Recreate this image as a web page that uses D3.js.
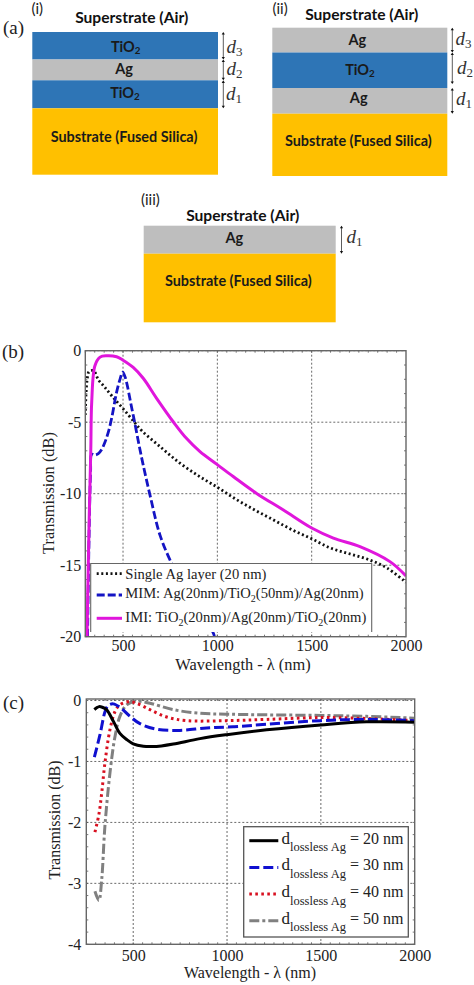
<!DOCTYPE html>
<html>
<head>
<meta charset="utf-8">
<script src="https://cdn.jsdelivr.net/npm/d3@7"></script>
<style>
html,body{margin:0;padding:0;background:#fff}
svg{display:block}
</style>
</head>
<body>
<svg id="fig" width="474" height="985"></svg>
<script>
// Layer stacks, top to bottom
const stackOneLayers = ["TiO2", "Ag", "TiO2", "Substrate (Fused Silica)"];
const stackTwoLayers = ["Ag", "TiO2", "Ag", "Substrate (Fused Silica)"];
const stackThreeLayers = ["Ag", "Substrate (Fused Silica)"];

// Panel (b): wavelength in nm, transmission in dB
const agWave = [300,304,310,318,330,345,370,400,440,500,560,600,700,800,900,1000,1100,1200,1300,1400,1500,1600,1700,1800,1900,2000];
const agDb = [-4.5,-3,-2,-1.5,-1.4,-1.4,-2.05,-2.5,-3.15,-4.05,-5,-5.6,-6.75,-7.85,-8.75,-9.55,-10.4,-11.15,-11.85,-12.55,-13.15,-13.8,-14.2,-14.6,-15.2,-16.2];
const mimWave = [312,320,328,334,350,369,385,404,422,440,466,485,498,510,522,540,563,585,607,643,696,758,800,860,920,975,990];
const mimDb = [-20,-13,-8.5,-7.25,-7.3,-7.2,-6.95,-6.4,-5.7,-4.7,-2.9,-1.95,-1.5,-1.8,-2.4,-3.6,-5.1,-6.6,-8,-10.1,-12.9,-14.9,-16,-17.4,-18.6,-19.65,-20.2];
const imiWave = [308,313,321,329,334,351,378,413,466,498,554,607,678,766,836,908,998,1084,1208,1350,1500,1615,1756,1915,2000];
const imiDb = [-21,-17,-11.5,-7,-3.6,-1.05,-0.45,-0.35,-0.42,-0.65,-1.17,-1.93,-3.33,-4.97,-6.13,-7.06,-7.95,-8.8,-9.98,-11.14,-12.4,-13.1,-13.7,-14.75,-15.75];

// Panel (c): lossless silver films of four thicknesses
const d20Wave = [293,305,318,335,358,394,429,465,500,554,600,650,714,856,998,1211,1500,1744,2000];
const d20Db = [-0.15,-0.12,-0.1,-0.11,-0.15,-0.34,-0.54,-0.64,-0.71,-0.75,-0.755,-0.745,-0.715,-0.625,-0.56,-0.48,-0.4,-0.35,-0.355];
const d30Wave = [293,323,350,367,394,429,483,536,625,749,891,1033,1211,1500,1744,2000];
const d30Db = [-0.93,-0.56,-0.18,-0.08,-0.055,-0.11,-0.26,-0.38,-0.47,-0.49,-0.45,-0.43,-0.39,-0.33,-0.31,-0.33];
const d40Wave = [296,317,332,349,376,403,429,474,518,589,678,785,998,1211,1500,1744,2000];
const d40Db = [-2.16,-1.87,-1.52,-1.03,-0.48,-0.18,-0.07,-0.02,-0.045,-0.15,-0.27,-0.33,-0.33,-0.31,-0.28,-0.295,-0.33];
const d50Wave = [296,317,332,349,376,403,429,465,518,589,714,856,998,1211,1500,1744,2000];
const d50Db = [-3.13,-3.28,-2.94,-2.07,-1.19,-0.59,-0.26,-0.07,-0.01,-0.045,-0.15,-0.21,-0.224,-0.235,-0.245,-0.26,-0.29];

// Axis ticks
const waveTicks = [500, 1000, 1500, 2000];
const panelBDbTicks = [0, -5, -10, -15, -20];
const panelCDbTicks = [0, -1, -2, -3, -4];

// Legend wording
const panelBLegend = [
  [["Single Ag layer (20 nm)", false]],
  [["MIM: Ag(20nm)/TiO", false], ["2", true], ["(50nm)/Ag(20nm)", false]],
  [["IMI: TiO", false], ["2", true], ["(20nm)/Ag(20nm)/TiO", false], ["2", true], ["(20nm)", false]]
];
const panelCThickness = ["= 20 nm", "= 30 nm", "= 40 nm", "= 50 nm"];

const svg = d3.select("#fig");
const LAYER_FILL = {TiO2: "#2e75b6", Ag: "#bebebe"};
const SUBSTRATE_FILL = "#ffc000";
const SANS = "Lato, 'Open Sans', sans-serif";
const SERIF = "'Liberation Serif', serif";
const INK = "#222";

// ---- Panel (a): layer stacks --------------------------------------------
function drawSubscriptLabel(parent, x, y, label, size) {
  const t = parent.append("text").attr("x", x).attr("y", y)
    .attr("text-anchor", "middle").attr("font-family", SANS).attr("font-weight", 700)
    .attr("font-size", size).attr("fill", "#1a1a1a").attr("dominant-baseline", "middle");
  if (label === "TiO2") {
    t.append("tspan").text("TiO");
    t.append("tspan").attr("font-size", size * 0.68).attr("dy", 3).text("2");
  } else {
    t.text(label);
  }
}

function drawStack(layers, x0, x1, edges, labelPos, superPos) {
  const g = svg.append("g");
  g.selectAll("rect").data(layers).join("rect")
    .attr("x", x0).attr("width", x1 - x0)
    .attr("y", (d, i) => edges[i])
    .attr("height", (d, i) => edges[i + 1] - edges[i])
    .attr("fill", d => LAYER_FILL[d] || SUBSTRATE_FILL);
  layers.forEach((d, i) => drawSubscriptLabel(g, labelPos[i][0], labelPos[i][1], d, d.length > 6 ? 14.4 : 14.5));
  g.append("text").attr("x", superPos[0]).attr("y", superPos[1]).attr("text-anchor", "middle")
    .attr("font-family", SANS).attr("font-weight", 700).attr("font-size", 15.6).attr("fill", "#111")
    .text("Superstrate (Air)");
}

function drawThickness(x, from, to, name, lx, ly) {
  const g = svg.append("g");
  g.append("line").attr("x1", x).attr("x2", x).attr("y1", from + 1).attr("y2", to - 1)
    .attr("stroke", "#333").attr("stroke-width", 0.8);
  [[from, 1], [to, -1]].forEach(([y, s]) => {
    g.append("path").attr("d", `M${x - 1.6},${y + s * 2.6}L${x},${y}L${x + 1.6},${y + s * 2.6}Z`).attr("fill", "#111");
  });
  const t = g.append("text").attr("x", lx).attr("y", ly).attr("font-family", SERIF)
    .attr("font-style", "italic").attr("font-size", 19).attr("fill", "#333").text("d");
  t.append("tspan").attr("font-size", 13).attr("font-style", "normal").attr("dy", 3).text(name);
}

const smallLabels = [["(i)", 31.5, 14], ["(ii)", 272.5, 14], ["(iii)", 141, 205]];
smallLabels.forEach(([s, x, y]) => svg.append("text").attr("x", x).attr("y", y)
  .attr("font-family", SANS).attr("font-size", 15).attr("fill", "#222").text(s));

drawStack(stackOneLayers, 32.3, 218, [32, 59.5, 80.3, 108.3, 174.7],
  [[125.7, 48], [124, 70.5], [125, 93.5], [124, 138]], [131.7, 23]);
drawStack(stackTwoLayers, 272.3, 447.3, [27.7, 52.5, 88, 113.7, 176],
  [[357.3, 41], [360, 71], [358.7, 99.5], [358.3, 142]], [361.7, 20]);
drawStack(stackThreeLayers, 143.7, 335.7, [225.7, 253.7, 322.3],
  [[234.3, 239.5], [238.3, 282.5]], [242.7, 220.5]);

drawThickness(223.3, 32, 59.5, "3", 226.5, 53);
drawThickness(223.3, 59.5, 80.3, "2", 226.5, 75);
drawThickness(223.3, 80.3, 108.3, "1", 226, 100);
drawThickness(452.3, 27.7, 52.5, "3", 455.5, 45);
drawThickness(452.3, 52.5, 84, "2", 457, 74);
drawThickness(452.3, 88, 113.7, "1", 456, 105);
drawThickness(341.5, 225.7, 253.7, "1", 346.5, 243);

[["(a)", 3, 34], ["(b)", 2, 358], ["(c)", 3, 709]].forEach(([s, x, y]) =>
  svg.append("text").attr("x", x).attr("y", y).attr("font-family", SERIF)
    .attr("font-size", 19).attr("fill", INK).text(s));

// ---- Shared plot scaffolding ---------------------------------------------
function plotFrame(cfg) {
  const {x, y, yTicks, minorY} = cfg;
  const [l, r] = x.range();
  const [b, t] = y.range();
  const g = svg.append("g");

  // dotted grid at the major ticks
  const grid = g.append("g").attr("stroke", "#6a6a6a").attr("stroke-width", 1).attr("stroke-dasharray", "2 2");
  grid.selectAll(".gx").data(waveTicks.filter(v => v < 2000)).join("line")
    .attr("x1", d => x(d)).attr("x2", d => x(d)).attr("y1", t).attr("y2", b);
  grid.selectAll(".gy").data(yTicks.filter(v => v !== yTicks[yTicks.length - 1])).join("line")
    .attr("x1", l).attr("x2", r).attr("y1", d => y(d)).attr("y2", d => y(d));

  const minorX = d3.range(300, 2000, 50);
  // small inward ticks on all four sides
  const ticks = g.append("g").attr("stroke", "#555").attr("stroke-width", 0.8);
  [[b, -1], [t, 1]].forEach(([edge, s]) => {
    ticks.selectAll(null).data(minorX).join("line")
      .attr("x1", d => x(d)).attr("x2", d => x(d)).attr("y1", edge).attr("y2", edge + s * 2);
  });
  [[l, 1], [r, -1]].forEach(([edge, s]) => {
    ticks.selectAll(null).data(minorY).join("line")
      .attr("y1", d => y(d)).attr("y2", d => y(d)).attr("x1", edge).attr("x2", edge + s * 2);
  });
  return g;
}

function finishAxes(cfg) {
  const {x, y, yTicks, tickSize, tickPad, xBase} = cfg;
  const [l, r] = x.range();
  const [b, t] = y.range();
  const ax = svg.append("g");
  const xAxis = ax.append("g").attr("transform", `translate(0,${b})`)
    .call(d3.axisBottom(x).tickValues(waveTicks).tickSize(0).tickPadding(xBase).tickFormat(d3.format("d")));
  const yAxis = ax.append("g").attr("transform", `translate(${l},0)`)
    .call(d3.axisLeft(y).tickValues(yTicks).tickSize(0).tickPadding(tickPad).tickFormat(d => d === 0 ? "0" : "-" + Math.abs(d)));
  [xAxis, yAxis].forEach(a => {
    a.selectAll(".domain").remove();
    a.selectAll("text").attr("font-family", SERIF).attr("font-size", tickSize).attr("fill", INK);
  });
  ax.append("rect").attr("x", l).attr("y", t).attr("width", r - l).attr("height", b - t)
    .attr("fill", "none").attr("stroke", "#666").attr("stroke-width", 1.4);
}

function axisTitles(size, xt, yt) {
  svg.append("text").attr("x", xt[0]).attr("y", xt[1]).attr("text-anchor", "middle")
    .attr("font-family", SERIF).attr("font-size", size).attr("fill", INK).text("Wavelength - λ (nm)");
  svg.append("text").attr("transform", `translate(${yt[0]},${yt[1]}) rotate(-90)`).attr("text-anchor", "middle")
    .attr("font-family", SERIF).attr("font-size", size).attr("fill", INK).text("Transmission (dB)");
}

function curve(parent, clipId, x, y, wave, db, style) {
  const line = d3.line().x(d => x(d[0])).y(d => y(d[1])).curve(d3.curveCatmullRom.alpha(0.5));
  parent.append("path").attr("d", line(d3.zip(wave, db))).attr("clip-path", `url(#${clipId})`)
    .attr("fill", "none").attr("stroke", style.color).attr("stroke-width", style.width)
    .attr("stroke-dasharray", style.dash).attr("stroke-linejoin", "round");
}

function clip(id, x, y) {
  svg.append("clipPath").attr("id", id).append("rect")
    .attr("x", x.range()[0]).attr("y", y.range()[1])
    .attr("width", x.range()[1] - x.range()[0]).attr("height", y.range()[0] - y.range()[1]);
}

// ---- Panel (b): measured stacks -------------------------------------------
const xB = d3.scaleLinear().domain([300, 2000]).range([85.3, 406]);
const yB = d3.scaleLinear().domain([-20, 0]).range([636.7, 350.7]);
clip("clipB", xB, yB);
const cfgB = {x: xB, y: yB, yTicks: panelBDbTicks, tickSize: 16, tickPad: 4, xBase: 3,
  minorY: d3.range(-20, 0, 1)};
plotFrame(cfgB);
const curvesB = svg.append("g");
const styleAg = {color: "#111", width: 2.8, dash: "2 2.6"};
const styleMim = {color: "#1414c4", width: 2.8, dash: "8 3"};
const styleImi = {color: "#e016dc", width: 3};
curve(curvesB, "clipB", xB, yB, agWave, agDb, styleAg);
curve(curvesB, "clipB", xB, yB, mimWave, mimDb, styleMim);
curve(curvesB, "clipB", xB, yB, imiWave, imiDb, styleImi);

// legend box, open along its lower edge
const legB = svg.append("g");
const legBLineY = [573.7, 595, 618.3];
const legBTextY = [579.3, 598, 621.5];
legB.append("rect").attr("x", 90.7).attr("y", 563.5).attr("width", 281).attr("height", 68.5).attr("fill", "#fff");
legB.append("path").attr("d", "M90.7,632V563.5H371.7V632").attr("fill", "none").attr("stroke", "#666").attr("stroke-width", 1.1);
[styleAg, styleMim, styleImi].forEach((s, i) => {
  legB.append("line").attr("x1", 96.7).attr("x2", 122).attr("y1", legBLineY[i]).attr("y2", legBLineY[i])
    .attr("stroke", s.color).attr("stroke-width", s.width).attr("stroke-dasharray", s.dash);
  const t = legB.append("text").attr("x", 125.3).attr("y", legBTextY[i])
    .attr("font-family", SERIF).attr("font-size", 14.6).attr("fill", INK);
  let shift = 0;
  panelBLegend[i].forEach(([txt, sub]) => {
    const dy = sub ? 4 : -shift;
    shift = sub ? 4 : 0;
    t.append("tspan").attr("font-size", sub ? 10 : 14.6).attr("dy", dy).text(txt);
  });
});
finishAxes(cfgB);
axisTitles(16.4, [243, 670], [53.5, 493]);

// ---- Panel (c): lossless silver -------------------------------------------
const xC = d3.scaleLinear().domain([250, 2000]).range([86.3, 414.7]);
const yC = d3.scaleLinear().domain([-4, 0.025]).range([944.3, 699]);
clip("clipC", xC, yC);
const cfgC = {x: xC, y: yC, yTicks: panelCDbTicks, tickSize: 16, tickPad: 5, xBase: 5,
  minorY: d3.range(-4, 0, 0.2)};
plotFrame(cfgC);
const stylesC = [
  {color: "#000", width: 3},
  {color: "#1010d0", width: 3, dash: "10 4"},
  {color: "#d81020", width: 3, dash: "2.6 3.4"},
  {color: "#808080", width: 3, dash: "10 3 3 3"}
];
const curvesC = svg.append("g");
curve(curvesC, "clipC", xC, yC, d50Wave, d50Db, stylesC[3]);
curve(curvesC, "clipC", xC, yC, d40Wave, d40Db, stylesC[2]);
curve(curvesC, "clipC", xC, yC, d30Wave, d30Db, stylesC[1]);
curve(curvesC, "clipC", xC, yC, d20Wave, d20Db, stylesC[0]);

const legC = svg.append("g");
legC.append("rect").attr("x", 243.7).attr("y", 826.7).attr("width", 164.6).attr("height", 110.3)
  .attr("fill", "#fff").attr("stroke", "#555").attr("stroke-width", 1.3);
panelCThickness.forEach((s, i) => {
  const ly = 840.7 + i * 26.7;
  legC.append("line").attr("x1", 249.3).attr("x2", 278.3).attr("y1", ly).attr("y2", ly)
    .attr("stroke", stylesC[i].color).attr("stroke-width", 3).attr("stroke-dasharray", stylesC[i].dash);
  legC.append("text").attr("x", 281.5).attr("y", ly + 3).attr("font-family", SERIF).attr("font-size", 17).attr("fill", INK).text("d");
  legC.append("text").attr("x", 290).attr("y", ly + 10.5).attr("font-family", SERIF).attr("font-size", 12.5).attr("fill", INK).text("lossless Ag");
  legC.append("text").attr("x", 403.5).attr("y", ly + 3).attr("text-anchor", "end").attr("font-family", SERIF).attr("font-size", 16).attr("fill", INK).text(s);
});
finishAxes(cfgC);
axisTitles(16, [250, 978], [60, 820]);
</script>
</body>
</html>
